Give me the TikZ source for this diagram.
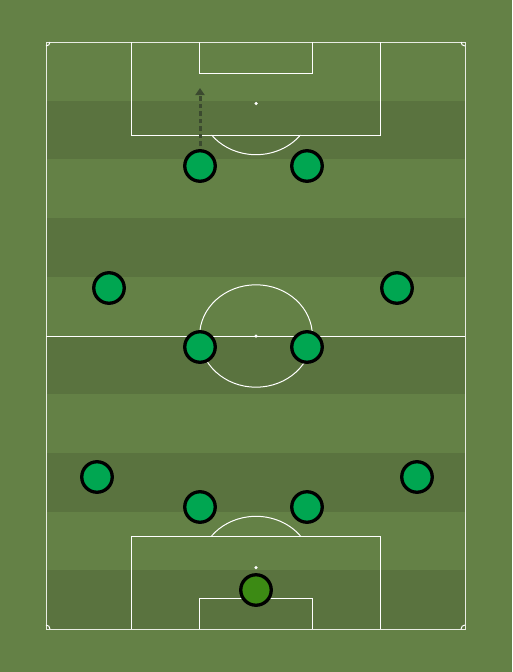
\documentclass[tikz,border=0pt]{standalone}
\usepackage{tikz}
\usetikzlibrary{arrows.meta,shadows}

\definecolor{pitchgreen}{HTML}{648146}
\definecolor{stripegreen}{HTML}{5A733F}
\definecolor{playergreen}{HTML}{00A651}
\definecolor{keepergreen}{HTML}{3C8A14}
\definecolor{runcolor}{HTML}{3B4A2F}

\begin{document}
\begin{tikzpicture}[
    x=1pt, y=-1pt,
    line/.style={draw=white, line width=1pt},
    outline/.style={draw=white!85!pitchgreen, line width=1pt},
    spot/.style={circle, fill=white, inner sep=0pt, minimum size=3.5pt},
    player/.style={circle, draw=black, line width=3.3pt, minimum size=30.5pt, inner sep=0pt,
                   fill=playergreen, drop shadow={shadow xshift=0.8pt, shadow yshift=-1.5pt, opacity=0.3}},
    keeper/.style={player, fill=keepergreen},
    run/.style={draw=runcolor, line width=3pt, dash pattern=on 4.5pt off 3pt,
                -{Triangle[width=9pt,length=7pt]}},
]

% background
\fill[pitchgreen] (0,0) rectangle (512,672);
\useasboundingbox (0,0) rectangle (512,672);

% stripes
\foreach \i in {1,3,5,7,9}
    \fill[stripegreen] (46,42+58.7*\i) rectangle (465,42+58.7*\i+58.7);

% pitch outline and halfway line
\draw[outline] (46,42) rectangle (465,629);
\draw[line] (46,336) -- (465,336);
\draw[line] (256,336) ellipse [x radius=56.4, y radius=51.2];
\node[spot] (centrespot) at (256,336) {};

% corners
\draw[line] (50,42) arc[start angle=0, end angle=90, radius=4];
\draw[line] (461,42) arc[start angle=180, end angle=90, radius=4];
\draw[line] (50,629) arc[start angle=0, end angle=-90, radius=4];
\draw[line] (461,629) arc[start angle=180, end angle=270, radius=4];

% top penalty area
\draw[line] (131,42) -- (131,135) -- (380,135) -- (380,42);
\draw[line] (199,42) -- (199,73) -- (312,73) -- (312,42);
\node[spot] (topspot) at (256,103.5) {};
\draw[line] (256,103.5) ++(38:56.4 and 51.2) arc[start angle=38, end angle=142, x radius=56.4, y radius=51.2];

% bottom penalty area
\draw[line] (131,629) -- (131,536) -- (380,536) -- (380,629);
\draw[line] (199,629) -- (199,598) -- (312,598) -- (312,629);
\node[spot] (bottomspot) at (256,567.5) {};
\draw[line] (256,567.5) ++(-38:56.4 and 51.2) arc[start angle=-38, end angle=-142, x radius=56.4, y radius=51.2];

% run
\coordinate (runend) at (200,88);
\draw[run, shorten <=4pt] (200,149.5) -- (runend);

% players
\node[player] (st1) at (200,166) {};
\node[player] (st2) at (307,166) {};
\node[player] (lm) at (109,288) {};
\node[player] (rm) at (397,288) {};
\node[player] (cm1) at (200,347) {};
\node[player] (cm2) at (307,347) {};
\node[player] (lb) at (97,477) {};
\node[player] (rb) at (417,477) {};
\node[player] (cb1) at (200,507) {};
\node[player] (cb2) at (307,507) {};
\node[keeper] (gk) at (256,590) {};

\end{tikzpicture}
\end{document}
